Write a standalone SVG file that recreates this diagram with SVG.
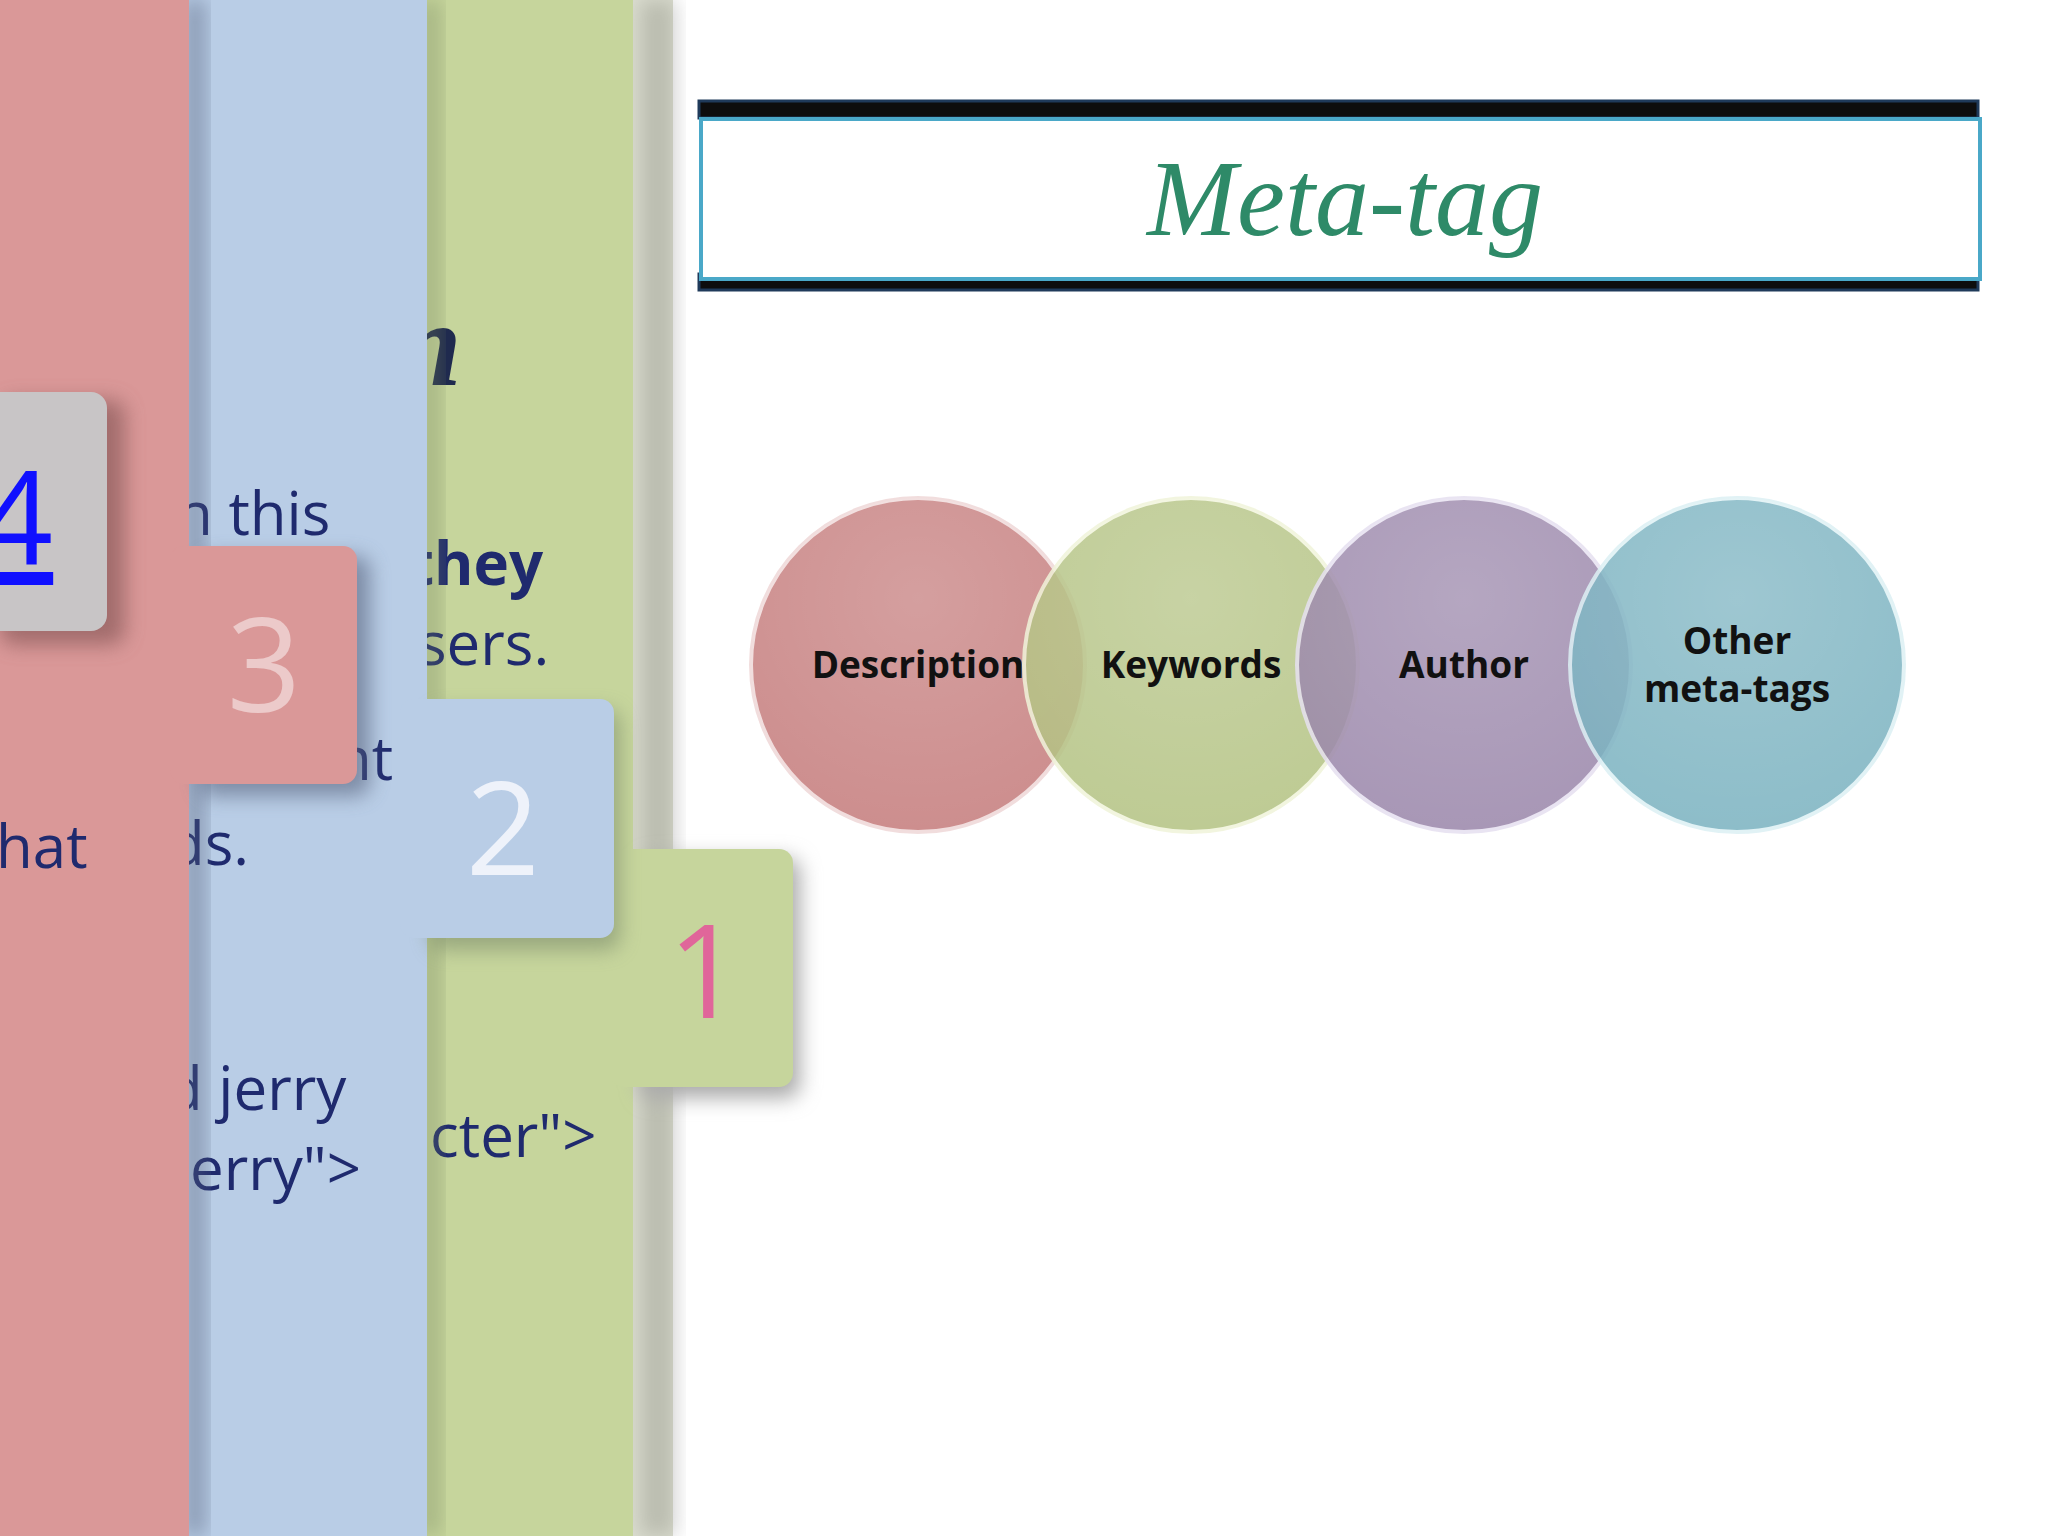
<svg xmlns="http://www.w3.org/2000/svg" width="2048" height="1536" viewBox="0 0 2048 1536">
<defs>
<filter id="sh" x="-20%" y="-20%" width="150%" height="150%"><feGaussianBlur stdDeviation="10"/></filter>
<radialGradient id="gl" cx="0.5" cy="0.3" r="0.7"><stop offset="0" stop-color="#fff" stop-opacity="0.15"/><stop offset="1" stop-color="#fff" stop-opacity="0"/></radialGradient>
<style>
.t{font-family:"Open Sans","Liberation Sans",sans-serif;font-size:60px;fill:#1f2a6e}
.n{font-family:"Open Sans","Liberation Sans",sans-serif;font-size:130px;text-anchor:middle}
.c{font-family:"Open Sans","Liberation Sans",sans-serif;font-size:37px;font-weight:bold;fill:#111;text-anchor:middle}
</style>
</defs>
<rect width="2048" height="1536" fill="#fff"/>
<g id="strip1">
<rect x="640" y="0" width="35" height="1536" fill="#ccc" filter="url(#sh)"/>
<rect x="427" y="0" width="206" height="1536" fill="#c6d59c"/>
<rect x="633" y="0" width="40" height="1536" fill="#9aa07a" opacity="0.35"/>
<text class="t" x="408" y="585" font-weight="bold" fill="#222">they</text>
<text class="t" x="418" y="665">sers.</text>
<text class="t" x="430" y="1157">cter"&gt;</text>
<text x="395" y="385" font-family="Liberation Serif,serif" font-style="italic" font-weight="bold" font-size="120" fill="#1f2a4e">n</text>
<rect x="640" y="858" width="160" height="240" rx="14" fill="#aaa" filter="url(#sh)"/>
<rect x="610" y="849" width="183" height="238" rx="14" fill="#c6d59c"/>
<text class="n" x="705" y="1018" fill="#e0669a">1</text>
</g>
<g id="strip2">
<rect x="420" y="0" width="20" height="1536" fill="#6f7f5a" opacity="0.4" filter="url(#sh)"/>
<rect x="189" y="0" width="238" height="1536" fill="#b9cde6"/>
<text class="t" x="176" y="535">n this</text>
<text class="t" x="335" y="780">nt</text>
<text class="t" x="168" y="865">ds.</text>
<text class="t" x="166" y="1110">d jerry</text>
<text class="t" x="190" y="1190">erry"&gt;</text>
<rect x="430" y="710" width="190" height="240" rx="14" fill="#7a8a6a" opacity="0.6" filter="url(#sh)"/>
<rect x="400" y="699" width="214" height="239" rx="14" fill="#b9cde6"/>
<text class="n" x="503" y="875" fill="#eef2fa">2</text>
</g>
<g id="strip3">
<rect x="185" y="0" width="20" height="1536" fill="#55607a" opacity="0.5" filter="url(#sh)"/>
<rect x="0" y="0" width="189" height="1536" fill="#da9898"/>
<text class="t" x="-4" y="868" fill="#111">hat</text>
<rect x="200" y="556" width="170" height="240" rx="14" fill="#55607a" opacity="0.6" filter="url(#sh)"/>
<rect x="170" y="546" width="187" height="238" rx="14" fill="#da9898"/>
<text class="n" x="264" y="712" fill="#eccaca">3</text>
</g>
<g id="tab4">
<rect x="0" y="400" width="125" height="245" rx="14" fill="#8a5a5a" opacity="0.7" filter="url(#sh)"/>
<rect x="-20" y="392" width="127" height="239" rx="16" fill="#c8c5c6"/>
<text x="16" y="565" font-family="Open Sans,Liberation Sans,sans-serif" font-size="130" fill="#1010ff" text-anchor="middle" text-decoration="underline">4</text>
</g>
<g id="title">
<rect x="699" y="101" width="1279" height="17" fill="#0d0d0d" stroke="#1f3a5a" stroke-width="3"/>
<rect x="699" y="274" width="1279" height="16" fill="#0d0d0d" stroke="#1f3a5a" stroke-width="3"/>
<rect x="701" y="119" width="1279" height="160" fill="#fff" stroke="#4aa8c8" stroke-width="4"/>
<text x="1345" y="235" font-family="Liberation Serif,serif" font-style="italic" font-size="108" fill="#2e8a68" text-anchor="middle">Meta-tag</text>
</g>
<g id="c1"><circle cx="918" cy="665" r="167" fill="#c88282" opacity="0.9" stroke="#f0dada" stroke-width="4"/><circle cx="918" cy="665" r="167" fill="url(#gl)"/><text class="c" x="918" y="678">Description</text></g>
<g id="c2"><circle cx="1191" cy="665" r="167" fill="#b3c282" opacity="0.85" stroke="#f0f4da" stroke-width="4"/><circle cx="1191" cy="665" r="167" fill="url(#gl)"/><text class="c" x="1191" y="678">Keywords</text></g>
<g id="c3"><circle cx="1464" cy="665" r="167" fill="#9a86aa" opacity="0.85" stroke="#e6e0f0" stroke-width="4"/><circle cx="1464" cy="665" r="167" fill="url(#gl)"/><text class="c" x="1464" y="678">Author</text></g>
<g id="c4"><circle cx="1737" cy="665" r="167" fill="#7ab2c0" opacity="0.85" stroke="#dcf0f4" stroke-width="4"/><circle cx="1737" cy="665" r="167" fill="url(#gl)"/><text class="c" x="1737" y="654">Other</text><text class="c" x="1737" y="702">meta-tags</text></g>
<g id="connectors"/>
</svg>
